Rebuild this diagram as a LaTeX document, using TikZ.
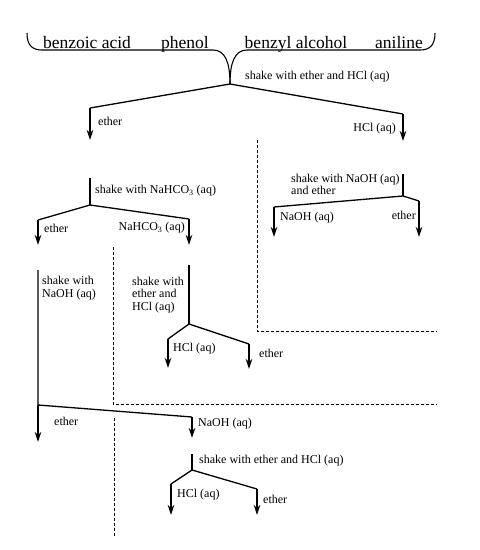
\documentclass[tikz,border=0pt]{standalone}
\usepackage{fontspec}
\setmainfont{Liberation Serif}
\usetikzlibrary{arrows.meta,positioning}

\begin{document}
\begin{tikzpicture}[x=1pt,y=-1pt,
    split/.style={line width=1.3pt},
    flow/.style={line width=1.3pt,-{Stealth[length=10pt,width=6.5pt]}},
    sep/.style={line width=1pt,dash pattern=on 3pt off 2pt},
    lbl/.style={inner sep=0pt,font=\fontsize{12}{12.5}\selectfont,align=left},
    big/.style={inner sep=0pt,font=\rmfamily\fontsize{17.5}{20}\selectfont,anchor=base}]

    \useasboundingbox (0,0) rectangle (480,550);

    % the mixture
    \node[big] (benzoic) at (87,48) {benzoic acid};
    \node[big] (phenol) at (185,48) {phenol};
    \node[big] (benzyl) at (296,48) {benzyl alcohol};
    \node[big] (aniline) at (399,48) {aniline};

    \coordinate (top) at (230,84);
    \draw[line width=1.1pt] (27,33) .. controls (27,45) and (32,50) .. (42,50) -- (213,50)
        .. controls (225,50) and (230,62) .. (top);
    \draw[line width=1.1pt] (top) .. controls (230,62) and (235,50) .. (247,50) -- (420,50)
        .. controls (430,50) and (435,45) .. (435,33);

    % first extraction
    \node[lbl,anchor=west] (shakeA) at (245,77) {shake with ether and HCl (aq)};
    \coordinate (etherA) at (90,108);   \coordinate (etherAend) at (90,140);
    \coordinate (hclA) at (403,114);    \coordinate (hclAend) at (403,141);
    \draw[split] (etherA) -- (top) -- (hclA);
    \draw[flow] (etherA) -- (etherAend);
    \draw[flow] (hclA) -- (hclAend);
    \node[lbl,anchor=west] (etherAlbl) at (98,121) {ether};
    \node[lbl,anchor=east] (hclAlbl) at (396,129) {HCl (aq)};

    % aqueous layer: aniline
    \coordinate (naohB0) at (403,174);  \coordinate (naohB1) at (403,196);
    \coordinate (naohB) at (274,207);   \coordinate (naohBend) at (274,237);
    \coordinate (etherB) at (419,201);  \coordinate (etherBend) at (419,237);
    \draw[split] (naohB0) -- (naohB1);
    \draw[split] (naohB) -- (naohB1) -- (etherB);
    \draw[flow] (naohB) -- (naohBend);
    \draw[flow] (etherB) -- (etherBend);
    \node[lbl,anchor=north west] (shakeB) at (291,173.5) {shake with NaOH (aq)\\and ether};
    \node[lbl,anchor=west] (naohBlbl) at (280,218) {NaOH (aq)};
    \node[lbl,anchor=east] (etherBlbl) at (416,215) {ether};

    % ether layer: NaHCO3
    \coordinate (bicC0) at (90,178);    \coordinate (bicC1) at (90,205);
    \coordinate (etherC) at (38,220);   \coordinate (etherCend) at (38,245);
    \coordinate (bicC) at (189,219);    \coordinate (bicCend) at (189,245);
    \draw[split] (bicC0) -- (bicC1);
    \draw[split] (etherC) -- (bicC1) -- (bicC);
    \draw[flow] (etherC) -- (etherCend);
    \draw[flow] (bicC) -- (bicCend);
    \node[lbl,anchor=west] (shakeC) at (95,191) {shake with NaHCO\textsubscript{3} (aq)};
    \node[lbl,anchor=west] (etherClbl) at (44,228) {ether};
    \node[lbl,anchor=east] (bicClbl) at (185,228) {NaHCO\textsubscript{3} (aq)};

    % NaHCO3 layer: benzoic acid
    \coordinate (hclD0) at (189,265);   \coordinate (hclD1) at (189,324);
    \coordinate (hclD) at (168,339);    \coordinate (hclDend) at (168,368);
    \coordinate (etherD) at (249,344);  \coordinate (etherDend) at (249,369);
    \draw[split] (hclD0) -- (hclD1);
    \draw[split] (hclD) -- (hclD1) -- (etherD);
    \draw[flow] (hclD) -- (hclDend);
    \draw[flow] (etherD) -- (etherDend);
    \node[lbl,anchor=north west] (shakeD) at (132,276.5) {shake with\\ether and\\HCl (aq)};
    \node[lbl,anchor=west] (hclDlbl) at (173,349) {HCl (aq)};
    \node[lbl,anchor=west] (etherDlbl) at (259,353) {ether};

    % ether layer: NaOH
    \coordinate (naohE0) at (38,270);   \coordinate (etherE) at (38,405);
    \coordinate (etherEend) at (38,442);
    \coordinate (naohE) at (192,417);   \coordinate (naohEend) at (192,438);
    \draw[split] (naohE0) -- (etherE) -- (naohE);
    \draw[flow] (etherE) -- (etherEend);
    \draw[flow] (naohE) -- (naohEend);
    \node[lbl,anchor=north west] (shakeE) at (42,276) {shake with\\NaOH (aq)};
    \node[lbl,anchor=west] (etherElbl) at (54,421) {ether};
    \node[lbl,anchor=west] (naohElbl) at (198,424) {NaOH (aq)};

    % NaOH layer: phenol
    \coordinate (hclF0) at (192,454);   \coordinate (hclF1) at (192,470);
    \coordinate (hclF) at (171,484);    \coordinate (hclFend) at (171,515);
    \coordinate (etherF) at (257,489);  \coordinate (etherFend) at (257,515);
    \draw[split] (hclF0) -- (hclF1);
    \draw[split] (hclF) -- (hclF1) -- (etherF);
    \draw[flow] (hclF) -- (hclFend);
    \draw[flow] (etherF) -- (etherFend);
    \node[lbl,anchor=west] (shakeF) at (199,461) {shake with ether and HCl (aq)};
    \node[lbl,anchor=west] (hclFlbl) at (177,495) {HCl (aq)};
    \node[lbl,anchor=west] (etherFlbl) at (263,499) {ether};

    % separators
    \draw[sep] (257,140) -- (257,331) -- (437,331);
    \draw[sep] (113,247) -- (113,404) -- (437,404);
    \draw[sep] (114,418) -- (114,537);
\end{tikzpicture}
\end{document}
